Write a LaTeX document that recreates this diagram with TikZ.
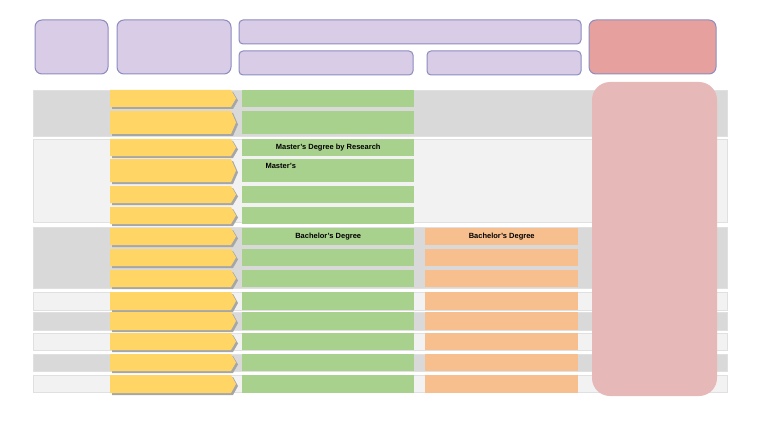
\documentclass[tikz,border=0pt]{standalone}
\usepackage{fontspec}
\setmainfont{Liberation Sans}
\begin{document}
\begin{tikzpicture}[x=1pt,y=-1pt,
 hdr/.style={draw=black!55!blue!45,line width=1pt,rounded corners=7pt},
 band/.style={fill=#1,draw=black!12,line width=0.8pt},
 cell/.style={fill=#1},
 lbl/.style={font=\bfseries\fontsize{7.5}{8}\selectfont}]
\useasboundingbox (0,0) rectangle (768,433);
\definecolor{hp}{HTML}{D8CCE6}
\definecolor{gb}{HTML}{D9D9D9}
\definecolor{lb}{HTML}{F2F2F2}
\definecolor{yl}{HTML}{FFD666}
\definecolor{gr}{HTML}{A9D18E}
\definecolor{org}{HTML}{F8BF8E}
\definecolor{pk}{HTML}{E6B8B8}
\definecolor{rd}{HTML}{E6A19E}
% headers
\draw[hdr,fill=hp] (35,20) rectangle (108,74);
\draw[hdr,fill=hp] (117,20) rectangle (231,74);
\draw[hdr,fill=hp,rounded corners=4pt] (239,20) rectangle (581,44);
\draw[hdr,fill=hp,rounded corners=4pt] (239,51) rectangle (413,75);
\draw[hdr,fill=hp,rounded corners=4pt] (427,51) rectangle (581,75);
\draw[hdr,fill=rd] (589,20) rectangle (716,74);
% bands
\draw[band=gb] (33,90) rectangle (727,136);
\draw[band=lb] (33,139) rectangle (727,222);
\draw[band=gb] (33,227) rectangle (727,288);
\draw[band=lb] (33,292) rectangle (727,310);
\draw[band=gb] (33,312) rectangle (727,330);
\draw[band=lb] (33,333) rectangle (727,350);
\draw[band=gb] (33,354) rectangle (727,371);
\draw[band=lb] (33,375) rectangle (727,392);
% rows
\foreach \a/\b [count=\i] in {90/107,111/134,139/156,159/182,186/203,207/224,228/245,249/266,270/287,292/310,312/330,333/350,354/371,375/393}{
 \fill[black!35] (112,\a+2) -- (233,\a+2) -- (238,{(\a+\b)/2+2}) -- (233,\b+2) -- (112,\b+2) -- cycle;
 \fill[yl] (110,\a) -- (231,\a) -- (236,{(\a+\b)/2}) -- (231,\b) -- (110,\b) -- cycle;
 \node[cell=gr,minimum width=172pt,minimum height={(\b-\a)*1pt},inner sep=0pt,anchor=north west] (g\i) at (242,\a) {};
 \ifnum\i>6
 \node[cell=org,minimum width=153pt,minimum height={(\b-\a)*1pt},inner sep=0pt,anchor=north west] (o\i) at (425,\a) {};
 \fi
}
\node[lbl] at (g3) {Master's Degree by Research};
\node[lbl,anchor=west] at (262,166) {Master's};
\node[lbl] at (g7) {Bachelor's Degree};
\node[lbl] at (o7) {Bachelor's Degree};
\fill[pk,rounded corners=18pt] (592,82) rectangle (717,396);
\end{tikzpicture}
\end{document}
